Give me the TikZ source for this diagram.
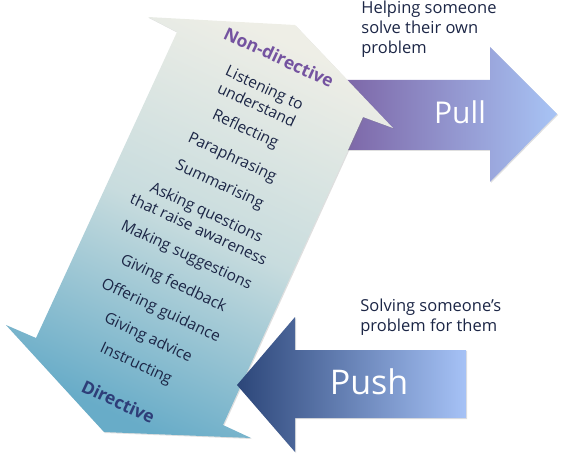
\documentclass[tikz,border=0pt]{standalone}
\usepackage{fontspec}
\setmainfont{Open Sans}
\usetikzlibrary{shadows}

\definecolor{textnavy}{RGB}{28,38,70}
\definecolor{nondirpurple}{RGB}{116,83,160}
\definecolor{dirnavy}{RGB}{46,62,120}
\definecolor{arrowtop}{RGB}{238,238,230}
\definecolor{arrowmid}{RGB}{200,220,222}
\definecolor{arrowbottom}{RGB}{104,172,200}
\definecolor{pullleft}{RGB}{122,96,162}
\definecolor{pullright}{RGB}{168,196,245}
\definecolor{pushleft}{RGB}{44,70,121}
\definecolor{pushright}{RGB}{166,194,246}

\tikzset{every picture/.style={line width=0.75pt},
  softshadow/.style={drop shadow={opacity=0.25, shadow xshift=1pt, shadow yshift=-1pt}},
  item/.style={color=textnavy, rotate=-25, align=center, inner sep=0pt,
    font=\fontsize{15.5}{19}\selectfont},
  caption/.style={color=textnavy, align=left, anchor=north west, inner sep=0pt,
    font=\fontsize{16.5}{20}\selectfont}}

\begin{document}
\begin{tikzpicture}[x=1pt, y=-1pt]
    \useasboundingbox (0,0) rectangle (562,457);
    % pull arrow, behind the double arrow
    \shade[softshadow, left color=pullleft, right color=pullright]
        (330,80) -- (490,80) -- (490,47) -- (557,114) -- (490,182) -- (490,150) -- (330,150) -- cycle;
    % double arrow
    \shade[softshadow, top color=arrowtop, bottom color=arrowbottom, middle color=arrowmid, shading angle=-25]
        (148,17) -- (295,25) -- (393,128) -- (363,117) -- (223,425) -- (251,438)
        -- (104,432) -- (6,325) -- (36,338) -- (177,32) -- cycle;
    % push arrow, in front
    \shade[softshadow, left color=pushleft, right color=pushright]
        (237,385) -- (295,317) -- (295,350) -- (466,350) -- (466,418) -- (295,418) -- (295,452) -- cycle;

    \node[color=white, font=\fontsize{30}{30}\selectfont] (pull) at (460,112) {Pull};
    \node[color=white, font=\fontsize{34}{34}\selectfont] (push) at (369,382) {Push};
    \node[caption] (helping) at (361,1) {Helping someone\\solve their own\\problem};
    \node[caption] (solving) at (360,299) {Solving someone’s\\problem for them};

    \begin{scope}[rotate=-25]
        \node[item, color=nondirpurple, font=\bfseries\fontsize{17.5}{19}\selectfont] (nondir) at (277,-66) {Non-directive};
        \node[item] (listening) at (277,-23) {Listening to\\understand};
        \node[item] (reflecting) at (277,14) {Reflecting};
        \node[item] (paraphrasing) at (277,45) {Paraphrasing};
        \node[item] (summarising) at (277,75) {Summarising};
        \node[item] (asking) at (277,114) {Asking questions\\that raise awareness};
        \node[item] (making) at (277,153) {Making suggestions};
        \node[item] (feedback) at (277,184) {Giving feedback};
        \node[item] (guidance) at (277,214) {Offering guidance};
        \node[item] (advice) at (277,244) {Giving advice};
        \node[item] (instructing) at (277,273) {Instructing};
        \node[item, color=dirnavy, font=\bfseries\fontsize{17.5}{19}\selectfont] (dir) at (277,314) {Directive};
    \end{scope}
\end{tikzpicture}
\end{document}
